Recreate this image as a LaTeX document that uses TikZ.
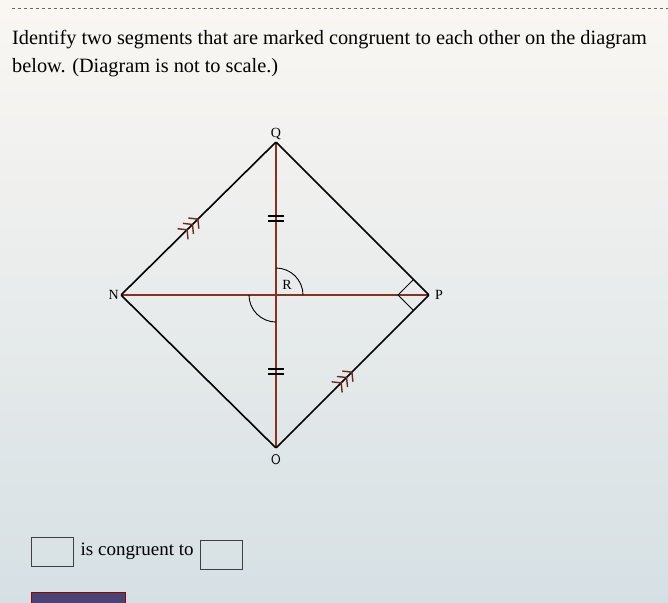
\documentclass[tikz,border=0pt]{standalone}
\usepackage{fontspec}
\setmainfont{Liberation Serif}
\usetikzlibrary{arrows.meta,calc,decorations.markings}

\definecolor{brownline}{RGB}{135,50,30}
\definecolor{pagetop}{RGB}{250,247,243}
\definecolor{pagebottom}{RGB}{214,224,228}
\definecolor{buttonfill}{RGB}{72,68,118}

\begin{document}
\begin{tikzpicture}[x=1pt,y=-1pt,
    pt/.style={inner sep=0pt,minimum size=0pt},
    lbl/.style={font=\fontsize{14}{15}\selectfont,inner sep=1pt},
    side/.style={line width=1.6pt,black},
    diag/.style={line width=1.6pt,brownline},
    tick/.style={line width=1.4pt,black},
    ansbox/.style={draw=black!75,line width=0.9pt,minimum width=42pt,minimum height=29pt,inner sep=0pt},
    parmark/.style={postaction={decorate},decoration={markings,mark=at position .5 with
      {\arrow[brownline!80!black,line width=1.4pt]{Straight Barb[length=6pt,width=15pt] Straight Barb[length=6pt,width=15pt] Straight Barb[length=6pt,width=15pt]}}}}]
\useasboundingbox (0,0) rectangle (668,602);
\shade[top color=pagetop,bottom color=pagebottom] (0,0) rectangle (668,602);

% question text
\draw[dashed,black!60,line width=0.6pt] (12,8) -- (668,8);
\node[anchor=base west,inner sep=0pt,font=\fontsize{20.3}{24}\selectfont] (line1) at (12,45)
  {Identify two segments that are marked congruent to each other on the diagram};
\node[anchor=base west,inner sep=0pt,font=\fontsize{20.3}{24}\selectfont] (line2) at (12,72)
  {below. (Diagram is not to scale.)};

% vertices
\node[pt] (Q) at (276,142) {};
\node[pt] (N) at (121,295) {};
\node[pt] (P) at (429,295) {};
\node[pt] (O) at (276,448) {};
\node[pt] (R) at (276,295) {};

\node[lbl,above=1pt] (Qlab) at (Q) {Q};
\node[lbl,left=1pt] (Nlab) at (N) {N};
\node[lbl,right=5pt] (Plab) at (P) {P};
\node[lbl,below=5pt,font=\sffamily\fontsize{14}{15}\selectfont] (Olab) at (O) {O};
\node[lbl] (Rlab) at (287,285) {R};

% diagonals
\path[diag]
  (Q) edge (R)
  (R) edge (O)
  (N) edge (R)
  (R) edge (P);
% sides
\path[side]
  (Q) edge (P)
  (N) edge (O);
\draw[side,parmark] (N) -- (Q);
\draw[side,parmark] (O) -- (P);

% congruence ticks
\draw[tick] ($(Q)!.5!(R)+(-8,-2.5)$) -- +(16,0) ($(Q)!.5!(R)+(-8,2.5)$) -- +(16,0);
\draw[tick] ($(R)!.5!(O)+(-8,-2.5)$) -- +(16,0) ($(R)!.5!(O)+(-8,2.5)$) -- +(16,0);

% angles
\draw[line width=0.9pt] ($(R)+(27,0)$) arc[start angle=0,end angle=-90,radius=27];
\draw[line width=0.9pt] ($(R)+(-27,0)$) arc[start angle=180,end angle=90,radius=27];
\coordinate (PQm) at ($(P)!22pt!(Q)$);
\coordinate (POm) at ($(P)!22pt!(O)$);
\draw[line width=0.9pt] (PQm) -- ($(PQm)+(POm)-(P)$) -- (POm);

% answer line
\node[ansbox] (box1) at (52,551.5) {};
\node[anchor=west,inner sep=0pt,font=\fontsize{19}{21}\selectfont] (congr) at ([xshift=7pt]box1.east) {is congruent to};
\node[ansbox,anchor=west] (box2) at ([xshift=6pt,yshift=-3pt]congr.east) {};
\fill[buttonfill,draw=red!60!black,line width=0.6pt] (31,592) rectangle (125,605);
\end{tikzpicture}
\end{document}
